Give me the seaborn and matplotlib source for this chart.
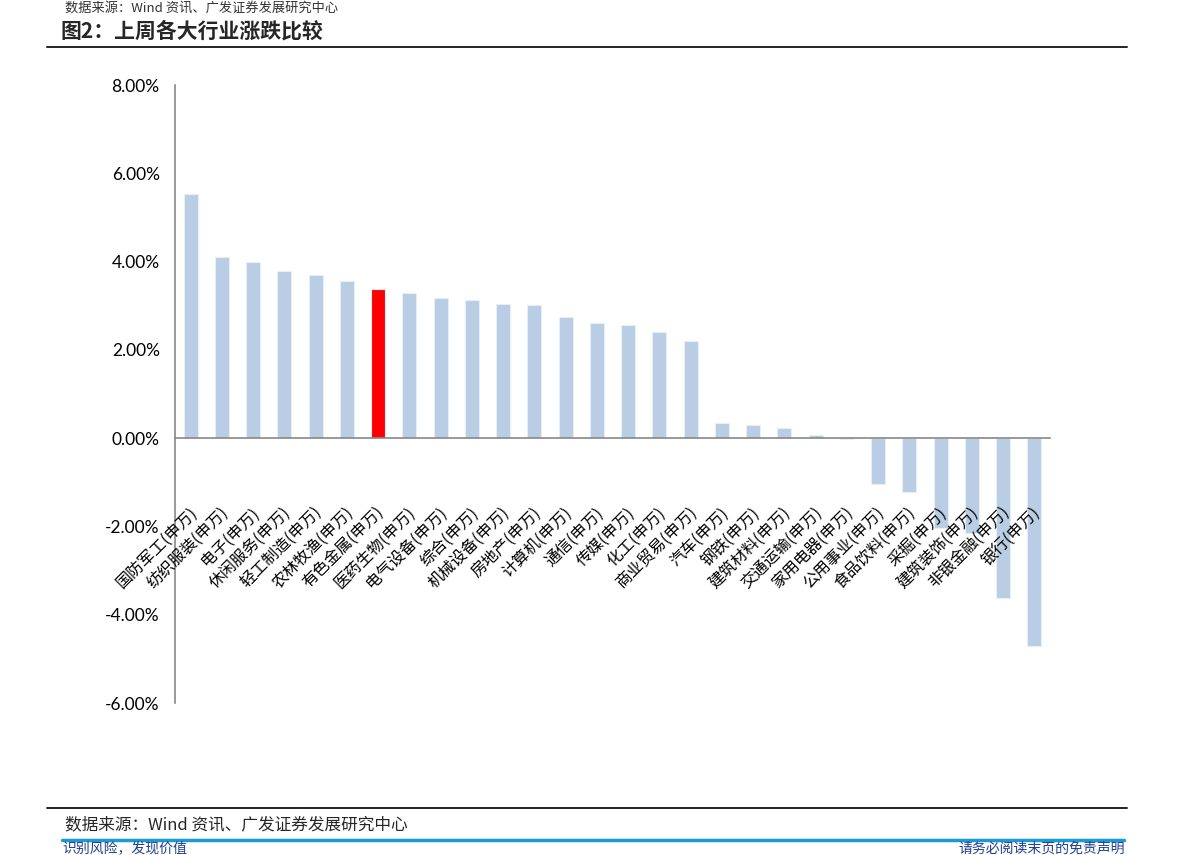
import matplotlib
matplotlib.use("Agg")
import matplotlib.pyplot as plt
import seaborn as sns
import pandas as pd
from matplotlib.ticker import FuncFormatter, FixedLocator

categories = ["国防军工(申万)", "纺织服装(申万)", "电子(申万)", "休闲服务(申万)", "轻工制造(申万)",
              "农林牧渔(申万)", "有色金属(申万)", "医药生物(申万)", "电气设备(申万)", "综合(申万)",
              "机械设备(申万)", "房地产(申万)", "计算机(申万)", "通信(申万)", "传媒(申万)",
              "化工(申万)", "商业贸易(申万)", "汽车(申万)", "钢铁(申万)", "建筑材料(申万)",
              "交通运输(申万)", "家用电器(申万)", "公用事业(申万)", "食品饮料(申万)", "采掘(申万)",
              "建筑装饰(申万)", "非银金融(申万)", "银行(申万)"]
values = [5.52, 4.10, 4.00, 3.78, 3.70, 3.57, 3.37, 3.28, 3.17, 3.12,
          3.05, 3.01, 2.74, 2.60, 2.56, 2.40, 2.19, 0.34, 0.29, 0.23,
          0.08, -0.03, -1.05, -1.23, -2.03, -2.15, -3.62, -4.72]
highlight = "有色金属(申万)"
yticks = [-6, -4, -2, 0, 2, 4, 6, 8]

title = "图2：上周各大行业涨跌比较"
source = "数据来源：Wind 资讯、广发证券发展研究中心"
footer_left = "识别风险，发现价值"
footer_right = "请务必阅读末页的免责声明"

sns.set_style("white")
plt.rcParams['font.family'] = ['Noto Sans CJK SC', 'DejaVu Sans']

df = pd.DataFrame({"cat": categories, "val": values})
palette = {c: ("#ff0000" if c == highlight else "#b9cde5") for c in categories}

W, H = 1191, 855
fig = plt.figure(figsize=(W / 100, H / 100), dpi=100)
ax = fig.add_axes([175 / W, 1 - 703 / H, (1050 - 175) / W, (703 - 85) / H])

sns.barplot(data=df, x="cat", y="val", hue="cat", palette=palette, legend=False,
            width=0.45, ax=ax, edgecolor="#e6eef7", linewidth=0.8, saturation=1)

ax.set_xlim(-0.5, len(categories) - 0.5)
ax.set_ylim(-6, 8)
ax.set_xlabel("")
ax.set_ylabel("")

# y axis
ax.yaxis.set_major_locator(FixedLocator(yticks))
ax.yaxis.set_major_formatter(FuncFormatter(lambda v, p: f"{v:.2f}%"))
for lab in ax.get_yticklabels():
    lab.set_fontfamily(["Lato", "DejaVu Sans"])
    lab.set_fontsize(12.5)
ax.tick_params(axis="y", direction="out", length=5, width=1, color="#888888", pad=6, labelcolor="#000000")

# x axis at zero with ticks at category boundaries
ax.spines["bottom"].set_position(("data", 0))
for s in ["top", "right"]:
    ax.spines[s].set_visible(False)
ax.spines["bottom"].set_color("#888888")
ax.spines["left"].set_color("#888888")
ax.spines["bottom"].set_linewidth(1.2)
ax.spines["left"].set_linewidth(1.2)
ax.set_xticks([i - 0.5 for i in range(len(categories) + 1)])
ax.set_xticklabels([])
ax.tick_params(axis="x", direction="out", length=4, width=1, color="#888888")

for i, c in enumerate(categories):
    ax.text(i + 0.12, -1.63, c, rotation=45, rotation_mode="anchor", ha="right", va="center",
            fontsize=11.5, color="#000000")

# page decorations
fig.text(61 / W, 1 - 31 / H, title, fontsize=15, fontweight="bold", ha="left", va="center")
fig.add_artist(plt.Line2D([47 / W, 1127 / W], [1 - 47 / H, 1 - 47 / H], color="#222222", lw=1.4))
fig.add_artist(plt.Line2D([47 / W, 1127 / W], [1 - 808 / H, 1 - 808 / H], color="#222222", lw=1.4))
fig.add_artist(plt.Line2D([62 / W, 1124 / W], [1 - 840 / H, 1 - 840 / H], color="#1a9ad6", lw=2.5))
fig.text(65 / W, 1 - 825 / H, source, fontsize=12, ha="left", va="center")
fig.text(65 / W, 1 - 8 / H, source, fontsize=9.5, ha="left", va="center", color="#333333")
fig.text(62 / W, 1 - 848.5 / H, footer_left, fontsize=10, color="#1f3f8f", ha="left", va="center")
fig.text(1125 / W, 1 - 848.5 / H, footer_right, fontsize=10, color="#1f3f8f", ha="right", va="center")

fig.savefig("out.png", dpi=100)
